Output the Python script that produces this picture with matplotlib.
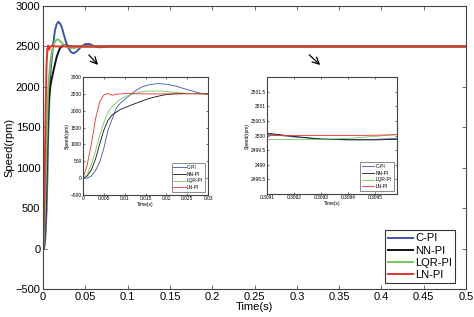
import matplotlib
matplotlib.use('Agg')
import matplotlib.pyplot as plt
from matplotlib.ticker import FormatStrFormatter, FuncFormatter

plt.rcParams['font.family'] = ['Liberation Sans', 'DejaVu Sans']

# step response
t = [0, 0.001, 0.002, 0.003, 0.004, 0.005, 0.006, 0.007, 0.008, 0.009, 0.010,
     0.012, 0.014, 0.016, 0.018, 0.020, 0.022, 0.024, 0.026, 0.028, 0.030,
     0.033, 0.036, 0.040, 0.045, 0.050, 0.055, 0.060, 0.065, 0.070, 0.080,
     0.090, 0.100, 0.200, 0.300, 0.400, 0.500]
c_pi = [0, 0, 60, 220, 470, 880, 1420, 1750, 2080, 2230, 2330,
        2540, 2700, 2775, 2805, 2785, 2740, 2665, 2590, 2525, 2480,
        2430, 2415, 2440, 2500, 2530, 2530, 2505, 2490, 2492, 2502,
        2500, 2500, 2500, 2500, 2500, 2500]
nn_pi = [0, 60, 240, 560, 1000, 1420, 1715, 1870, 1960, 2040, 2090,
         2190, 2280, 2370, 2430, 2480, 2500, 2510, 2515, 2510, 2505,
         2500, 2498, 2498, 2500, 2500, 2500, 2500, 2500, 2500, 2500,
         2500, 2500, 2500, 2500, 2500, 2500]
lqr_pi = [0, 100, 400, 800, 1250, 1650, 1960, 2120, 2240, 2340, 2410,
          2500, 2560, 2585, 2585, 2570, 2545, 2525, 2510, 2500, 2490,
          2480, 2480, 2490, 2500, 2502, 2500, 2500, 2500, 2500, 2500,
          2500, 2500, 2500, 2500, 2500, 2500]
ln_pi = [0, 380, 1000, 1750, 2260, 2470, 2510, 2460, 2490, 2500, 2510,
         2505, 2500, 2500, 2500, 2500, 2500, 2500, 2500, 2500, 2500,
         2500, 2500, 2500, 2500, 2500, 2500, 2500, 2500, 2500, 2500,
         2500, 2500, 2500, 2500, 2500, 2500]

# steady state detail
t2 = [0.3091, 0.3092, 0.3093, 0.3094, 0.3095, 0.30958]
c_pi2 = [2500.05, 2499.95, 2499.88, 2499.86, 2499.87, 2499.90]
nn_pi2 = [2500.08, 2499.97, 2499.88, 2499.85, 2499.85, 2499.87]
lqr_pi2 = [2499.86, 2499.86, 2499.87, 2499.90, 2499.97, 2500.03]
ln_pi2 = [2500.00, 2500.00, 2500.00, 2500.00, 2500.01, 2500.03]

names = ['C-PI', 'NN-PI', 'LQR-PI', 'LN-PI']
colors = ['#3b55a8', '#111111', '#74c85a', '#e8302c']

fig = plt.figure(figsize=(4.74, 3.17), dpi=100)


def style(ax, size):
    for s in ax.spines.values():
        s.set_color('#444444')
        s.set_linewidth(0.8)
    ax.tick_params(direction='in', top=True, right=True, labelsize=size,
                   length=3 if size > 5 else 1.5, width=0.6, color='#555555',
                   pad=2 if size > 5 else 1)


gfmt = FuncFormatter(lambda v, p: '%g' % round(v, 6))

ax = fig.add_axes([0.091, 0.088, 0.892, 0.893])
for y, n, c in zip([c_pi, nn_pi, lqr_pi, ln_pi], names, colors):
    ax.plot(t, y, color=c, lw=1.4, label=n)
ax.set_xlim(0, 0.5)
ax.set_ylim(-500, 3000)
ax.set_xticks([i * 0.05 for i in range(11)])
ax.set_yticks(range(-500, 3001, 500))
ax.xaxis.set_major_formatter(gfmt)
style(ax, 8)
ax.set_xlabel('Time(s)', fontsize=8, labelpad=0)
ax.set_ylabel('Speed(rpm)', fontsize=8, labelpad=1)
leg = ax.legend(loc='lower right', bbox_to_anchor=(0.975, 0.02), fontsize=8,
                fancybox=False, edgecolor='black', handlelength=2.2,
                handletextpad=0.2, borderpad=0.3, labelspacing=0.2,
                borderaxespad=0)
leg.get_frame().set_linewidth(0.8)

ax.annotate('', xy=(0.0672, 2247), xytext=(0.0518, 2420),
            arrowprops=dict(arrowstyle='->', color='black', lw=0.9,
                            mutation_scale=12))
ax.annotate('', xy=(0.330, 2247), xytext=(0.3124, 2420),
            arrowprops=dict(arrowstyle='->', color='black', lw=0.9,
                            mutation_scale=12))

# inset 1: start-up
ax1 = fig.add_axes([0.175, 0.385, 0.264, 0.372])
for y, n, c in zip([c_pi, nn_pi, lqr_pi, ln_pi], names, colors):
    ax1.plot(t, y, color=c, lw=0.6, label=n)
ax1.set_xlim(0, 0.03)
ax1.set_ylim(-500, 3000)
ax1.set_xticks([i * 0.005 for i in range(7)])
ax1.set_yticks(range(-500, 3001, 500))
ax1.xaxis.set_major_formatter(gfmt)
style(ax1, 3.5)
ax1.set_xlabel('Time(s)', fontsize=3.5, labelpad=0.5)
ax1.set_ylabel('Speed(rpm)', fontsize=3.5, labelpad=0.5)
l1 = ax1.legend(loc='lower right', fontsize=3.5, fancybox=False,
                edgecolor='black', handlelength=2.5, handletextpad=0.3,
                borderpad=0.4, labelspacing=0.35, borderaxespad=0.6)
l1.get_frame().set_linewidth(0.4)

# inset 2: steady state
ax2 = fig.add_axes([0.563, 0.388, 0.274, 0.369])
for y, n, c in zip([c_pi2, nn_pi2, lqr_pi2, ln_pi2], names, colors):
    ax2.plot(t2, y, color=c, lw=0.6, label=n)
ax2.set_xlim(0.3091, 0.30958)
ax2.set_ylim(2498, 2502)
ax2.set_xticks([0.3091, 0.3092, 0.3093, 0.3094, 0.3095])
ax2.set_yticks([2498.5, 2499, 2499.5, 2500, 2500.5, 2501, 2501.5])
ax2.xaxis.set_major_formatter(gfmt)
ax2.yaxis.set_major_formatter(gfmt)
style(ax2, 3.5)
ax2.set_xlabel('Time(s)', fontsize=3.5, labelpad=0.5)
ax2.set_ylabel('Speed(rpm)', fontsize=3.5, labelpad=0.5)
l2 = ax2.legend(loc='lower right', fontsize=3.5, fancybox=False,
                edgecolor='black', handlelength=2.5, handletextpad=0.3,
                borderpad=0.4, labelspacing=0.35, borderaxespad=0.6)
l2.get_frame().set_linewidth(0.4)

fig.savefig('out.png', dpi=100)
